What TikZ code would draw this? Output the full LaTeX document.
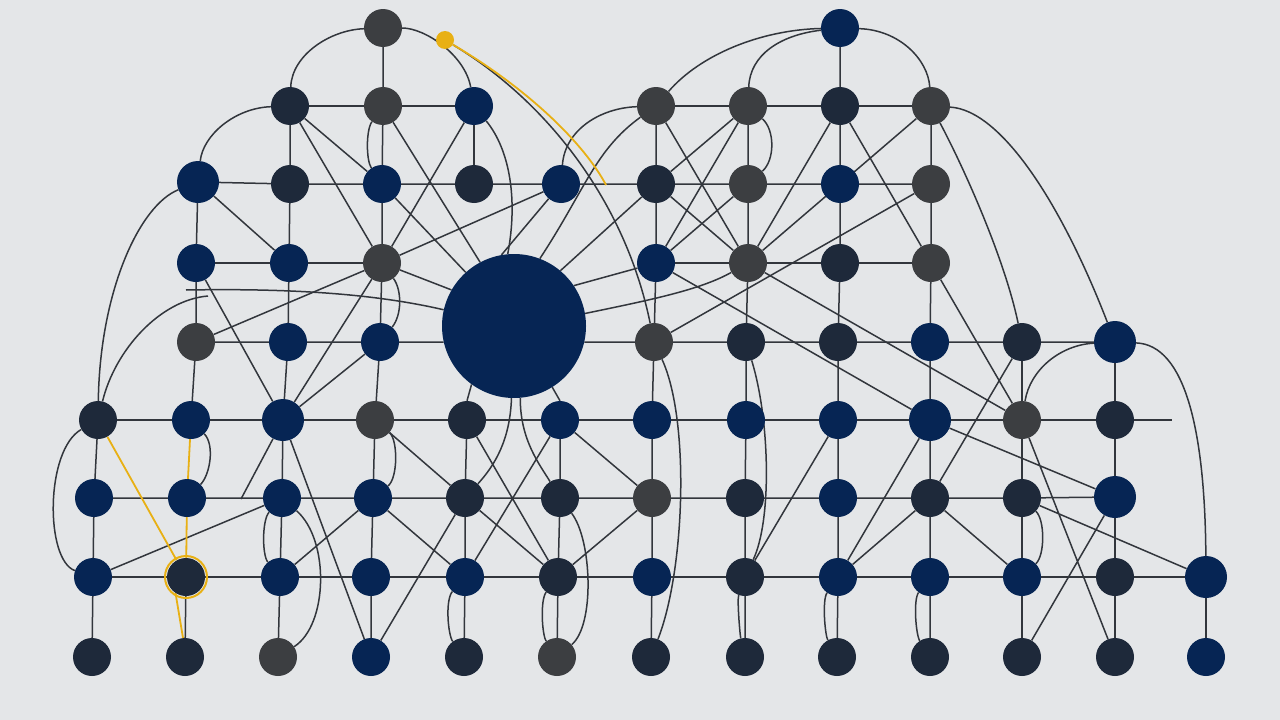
\documentclass[tikz,border=0pt]{standalone}
\usepackage[x11names]{xcolor}
\usetikzlibrary{backgrounds}

\definecolor{fundo}{RGB}{228,230,232}
\definecolor{cazul}{RGB}{6,37,84}
\definecolor{cescuro}{RGB}{30,41,58}
\definecolor{ccinza}{RGB}{60,62,65}
\definecolor{traco}{RGB}{50,54,60}
\definecolor{ouro}{RGB}{232,176,20}

\begin{document}
\begin{tikzpicture}[x=1pt,y=-1pt]
        \tikzstyle{no}=[circle, inner sep=0pt, minimum size=38pt]
        \tikzstyle{azul}=[no, fill=cazul]
        \tikzstyle{escuro}=[no, fill=cescuro]
        \tikzstyle{cinza}=[no, fill=ccinza]
        \tikzstyle{grande}=[minimum size=42pt]
        \tikzstyle{ligacao}=[draw=traco, line width=1.5pt]
        \tikzstyle{dourada}=[draw=ouro, line width=1.8pt]
        \tikzstyle{anel}=[circle, draw=ouro, line width=2pt, inner sep=0pt, minimum size=42pt]

        \useasboundingbox (0,0) rectangle (1280,720);

        % linha 0
        \node[cinza] (D0) at (383,28) {};
        \node[azul] (I0) at (840,28) {};
        \node[circle, fill=ouro, inner sep=0pt, minimum size=18pt] (Y) at (445,40) {};

        % linha 1
        \node[escuro] (C1) at (290,106) {};
        \node[cinza] (D1) at (383,106) {};
        \node[azul] (E1) at (474,106) {};
        \node[cinza] (G1) at (656,106) {};
        \node[cinza] (H1) at (748,106) {};
        \node[escuro] (I1) at (840,106) {};
        \node[cinza] (J1) at (931,106) {};

        % linha 2
        \node[azul, grande] (B2) at (198,182) {};
        \node[escuro] (C2) at (290,184) {};
        \node[azul] (D2) at (382,184) {};
        \node[escuro] (E2) at (474,184) {};
        \node[azul] (F2) at (561,184) {};
        \node[escuro] (G2) at (656,184) {};
        \node[cinza] (H2) at (748,184) {};
        \node[azul] (I2) at (840,184) {};
        \node[cinza] (J2) at (931,184) {};

        % linha 3
        \node[azul] (B3) at (196,263) {};
        \node[azul] (C3) at (289,263) {};
        \node[cinza] (D3) at (382,263) {};
        \node[azul] (G3) at (656,263) {};
        \node[cinza] (H3) at (748,263) {};
        \node[escuro] (I3) at (840,263) {};
        \node[cinza] (J3) at (931,263) {};

        % linha 4
        \node[cinza] (B4) at (196,342) {};
        \node[azul] (C4) at (288,342) {};
        \node[azul] (D4) at (380,342) {};
        \node[circle, fill=cazul, inner sep=0pt, minimum size=144pt] (X) at (514,326) {};
        \node[cinza] (G4) at (654,342) {};
        \node[escuro] (H4) at (746,342) {};
        \node[escuro] (I4) at (838,342) {};
        \node[azul] (J4) at (930,342) {};
        \node[escuro] (K4) at (1022,342) {};
        \node[azul, grande] (L4) at (1115,342) {};

        % linha 5
        \node[escuro] (A5) at (98,420) {};
        \node[azul] (B5) at (191,420) {};
        \node[azul, grande] (C5) at (283,420) {};
        \node[cinza] (D5) at (375,420) {};
        \node[escuro] (E5) at (467,420) {};
        \node[azul] (F5) at (560,420) {};
        \node[azul] (G5) at (652,420) {};
        \node[azul] (H5) at (746,420) {};
        \node[azul] (I5) at (838,420) {};
        \node[azul, grande] (J5) at (930,420) {};
        \node[cinza] (K5) at (1022,420) {};
        \node[escuro] (L5) at (1115,420) {};
        \coordinate (f5) at (1172,420);

        % linha 6
        \node[azul] (A6) at (94,498) {};
        \node[azul] (B6) at (187,498) {};
        \node[azul] (C6) at (282,498) {};
        \node[azul] (D6) at (373,498) {};
        \node[escuro] (E6) at (465,498) {};
        \node[escuro] (F6) at (560,498) {};
        \node[cinza] (G6) at (652,498) {};
        \node[escuro] (H6) at (745,498) {};
        \node[azul] (I6) at (838,498) {};
        \node[escuro] (J6) at (930,498) {};
        \node[escuro] (K6) at (1022,498) {};
        \node[azul, grande] (L6) at (1115,497) {};

        % linha 7
        \node[azul] (A7) at (93,577) {};
        \node[escuro] (B7) at (186,577) {};
        \node[azul] (C7) at (280,577) {};
        \node[azul] (D7) at (371,577) {};
        \node[azul] (E7) at (465,577) {};
        \node[escuro] (F7) at (558,577) {};
        \node[azul] (G7) at (652,577) {};
        \node[escuro] (H7) at (745,577) {};
        \node[azul] (I7) at (838,577) {};
        \node[azul] (J7) at (930,577) {};
        \node[azul] (K7) at (1022,577) {};
        \node[escuro] (L7) at (1115,577) {};
        \node[azul, grande] (M7) at (1206,577) {};

        % linha 8
        \node[escuro] (A8) at (92,657) {};
        \node[escuro] (B8) at (185,657) {};
        \node[cinza] (C8) at (278,657) {};
        \node[azul] (D8) at (371,657) {};
        \node[escuro] (E8) at (464,657) {};
        \node[cinza] (F8) at (557,657) {};
        \node[escuro] (G8) at (651,657) {};
        \node[escuro] (H8) at (745,657) {};
        \node[escuro] (I8) at (837,657) {};
        \node[escuro] (J8) at (930,657) {};
        \node[escuro] (K8) at (1022,657) {};
        \node[escuro] (L8) at (1115,657) {};
        \node[azul] (M8) at (1206,657) {};

        \node[anel] (anel) at (B7) {};

        % pontas soltas
        \coordinate (fa) at (208,296);
        \coordinate (fb) at (186,290);
        \coordinate (cf) at (241,499);
        \coordinate (ye) at (606,185);

        \begin{scope}[on background layer]
        \fill[fundo] (0,0) rectangle (1280,720);

        % horizontais
        \draw[ligacao] (C1) -- (D1) -- (E1);
        \draw[ligacao] (G1) -- (H1) -- (I1) -- (J1);
        \draw[ligacao] (B2) -- (C2) -- (D2) -- (E2) -- (F2) -- (G2) -- (H2) -- (I2) -- (J2);
        \draw[ligacao] (B3) -- (C3) -- (D3);
        \draw[ligacao] (G3) -- (H3) -- (I3) -- (J3);
        \draw[ligacao] (B4) -- (C4) -- (D4) -- (X.193);
        \draw[ligacao] (X.347) -- (G4) -- (H4) -- (I4) -- (J4) -- (K4) -- (L4);
        \draw[ligacao] (A5) -- (B5) -- (C5) -- (D5) -- (E5) -- (F5) -- (G5) -- (H5) -- (I5) -- (J5) -- (K5) -- (L5) -- (f5);
        \draw[ligacao] (A6) -- (B6) -- (C6) -- (D6) -- (E6) -- (F6) -- (G6) -- (H6) -- (I6) -- (J6) -- (K6) -- (L6);
        \draw[ligacao] (A7) -- (B7) -- (C7) -- (D7) -- (E7) -- (F7) -- (G7) -- (H7) -- (I7) -- (J7) -- (K7) -- (L7) -- (M7);

        % verticais
        \draw[ligacao] (D0) -- (D1) -- (D2) -- (D3) -- (D4) -- (D5) -- (D6) -- (D7) -- (D8);
        \draw[ligacao] (C1) -- (C2) -- (C3) -- (C4) -- (C5) -- (C6) -- (C7) -- (C8);
        \draw[ligacao] (B2) -- (B3) -- (B4) -- (B5);
        \draw[ligacao] (B7) -- (B8);
        \draw[ligacao] (A5) -- (A6) -- (A7) -- (A8);
        \draw[ligacao] (E1) -- (E2);
        \draw[ligacao] (X.234) -- (E5.north);
        \draw[ligacao] (X.302) -- (F5.north);
        \draw[ligacao] (E5) -- (E6) -- (E7) -- (E8);
        \draw[ligacao] (F5) -- (F6) -- (F7) -- (F8);
        \draw[ligacao] (G1) -- (G2) -- (G3) -- (G4) -- (G5) -- (G6) -- (G7) -- (G8);
        \draw[ligacao] (H1) -- (H2) -- (H3) -- (H4) -- (H5) -- (H6) -- (H7) -- (H8);
        \draw[ligacao] (I0) -- (I1) -- (I2) -- (I3) -- (I4) -- (I5) -- (I6) -- (I7) -- (I8);
        \draw[ligacao] (J1) -- (J2) -- (J3) -- (J4) -- (J5) -- (J6) -- (J7) -- (J8);
        \draw[ligacao] (K4) -- (K5) -- (K6) -- (K7) -- (K8);
        \draw[ligacao] (L4) -- (L5) -- (L6) -- (L7) -- (L8);
        \draw[ligacao] (M7) -- (M8);

        % diagonais
        \draw[ligacao] (C1) -- (D2) (C1) -- (D3) (B2) -- (C3) (B4) -- (D3);
        \draw[ligacao] (B3) -- (C5) (C5) -- (D3) (C5) -- (D4) (C5) -- (cf) (C5) -- (D8);
        \draw[ligacao] (A7) -- (C6) (C7) -- (D6);
        \draw[ligacao] (E1) -- (D3) (D3) -- (F2) (D1) -- (X.118) (D2) -- (X.132) (D3) -- (X.150) (F2) -- (X.100);
        \draw[ligacao] (X.50) -- (G2) (X.34) -- (G3);
        \draw[ligacao] (G1) -- (H3) (H1) -- (G2) (H1) -- (G3) (G2) -- (H3) (G3) -- (H2);
        \draw[ligacao] (I1) -- (H3) (I1) -- (J3) (J1) -- (H3) (J2) -- (G4);
        \draw[ligacao] (G3) -- (J5) (H3) -- (K5) (J3) -- (K5) (K4) -- (J6);
        \draw[ligacao] (J5) -- (L6) (K5) -- (L8) (L6) -- (K8) (K6) -- (M7) (J6) -- (K7);
        \draw[ligacao] (I5) -- (H7) (J5) -- (I7) (J6) -- (I7);
        \draw[ligacao] (D5) -- (E6) (E5) -- (F7) (F5) -- (E7) (E6) -- (D8) (E6) -- (F7) (D6) -- (E7);
        \draw[ligacao] (F5) -- (G6) (G6) -- (F7);

        % curvas
        \draw[ligacao] (D0) .. controls (330,30) and (292,55) .. (C1);
        \draw[ligacao] (D0) .. controls (425,28) and (465,55) .. (E1);
        \draw[ligacao] (C1) .. controls (235,108) and (203,135) .. (B2);
        \draw[ligacao] (B2) .. controls (140,205) and (100,290) .. (A5);
        \draw[ligacao] (A5) .. controls (115,350) and (160,300) .. (fa);
        \draw[ligacao] (fb) .. controls (300,288) and (380,295) .. (X.167);
        \draw[ligacao] (D1) .. controls (366,130) and (366,160) .. (D2);
        \draw[ligacao] (D3) .. controls (402,290) and (402,315) .. (D4);
        \draw[ligacao] (E1) .. controls (510,150) and (518,200) .. (X.95);
        \draw[ligacao] (G1) .. controls (600,108) and (565,130) .. (F2);
        \draw[ligacao] (G1) .. controls (595,150) and (585,190) .. (X.69);
        \draw[ligacao] (X.10) .. controls (650,300) and (700,290) .. (H3);
        \draw[ligacao] (Y) .. controls (545,100) and (625,200) .. (G4);
        \draw[ligacao] (I0) .. controls (760,30) and (700,55) .. (G1);
        \draw[ligacao] (I0) .. controls (780,35) and (750,55) .. (H1);
        \draw[ligacao] (I0) .. controls (900,30) and (928,60) .. (J1);
        \draw[ligacao] (H1) .. controls (775,130) and (775,160) .. (H2);
        \draw[ligacao] (J1) .. controls (1000,110) and (1060,200) .. (L4);
        \draw[ligacao] (J1) .. controls (965,170) and (1005,260) .. (K4);
        \draw[ligacao] (L4) .. controls (1060,345) and (1030,370) .. (K5);
        \draw[ligacao] (L4) .. controls (1185,345) and (1205,430) .. (M7);
        \draw[ligacao] (A5) .. controls (45,450) and (45,560) .. (A7);
        \draw[ligacao] (B5) .. controls (215,445) and (210,475) .. (B6);
        \draw[ligacao] (C6) .. controls (262,520) and (262,555) .. (C7);
        \draw[ligacao] (C6) .. controls (330,540) and (328,625) .. (C8);
        \draw[ligacao] (D5) .. controls (398,440) and (398,478) .. (D6);
        \draw[ligacao] (X.268) .. controls (510,440) and (495,465) .. (E6);
        \draw[ligacao] (X.275) .. controls (520,440) and (540,465) .. (F6);
        \draw[ligacao] (E7) .. controls (445,600) and (448,635) .. (E8);
        \draw[ligacao] (F7) .. controls (540,600) and (542,635) .. (F8);
        \draw[ligacao] (F6) .. controls (592,540) and (595,625) .. (F8);
        \draw[ligacao] (G4) .. controls (690,420) and (685,570) .. (G8);
        \draw[ligacao] (H4) .. controls (770,420) and (772,520) .. (H7);
        \draw[ligacao] (H7) .. controls (737,600) and (740,635) .. (H8);
        \draw[ligacao] (I7) .. controls (822,600) and (825,635) .. (I8);
        \draw[ligacao] (J7) .. controls (913,600) and (916,635) .. (J8);
        \draw[ligacao] (K6) .. controls (1045,520) and (1045,555) .. (K7);

        % caminho dourado
        \draw[dourada] (Y) .. controls (530,90) and (585,145) .. (ye);
        \draw[dourada] (B5) -- (B6) -- (B7);
        \draw[dourada] (A5) -- (B7);
        \draw[dourada] (B7.237) -- (B8.96);
        \end{scope}
      \end{tikzpicture}
\end{document}
